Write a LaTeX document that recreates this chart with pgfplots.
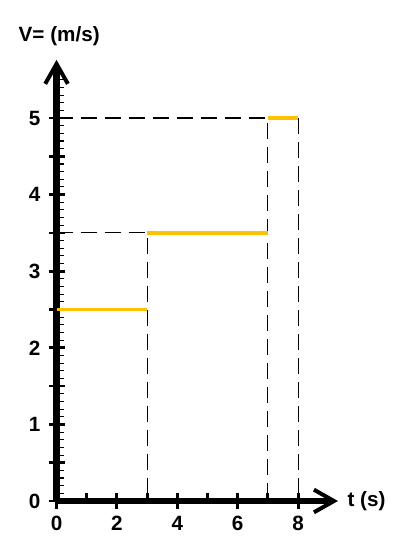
\documentclass[border=0pt]{standalone}
\usepackage{fontspec}
\setmainfont{Liberation Sans}
\usepackage{pgfplots}
\pgfplotsset{compat=1.18}
\usetikzlibrary{arrows.meta}
\definecolor{gold}{HTML}{FFC000}

\begin{document}
\begin{tikzpicture}
    \useasboundingbox (-42.4pt,-42.75pt) rectangle (259.1pt,375.75pt);
    \begin{axis}[
        scale only axis,
        width=211.1pt, height=330.9pt,
        xmin=0, xmax=9.32,
        ymin=0, ymax=5.76,
        axis lines=left,
        axis line style={line width=4.8pt, -{Straight Barb[length=15pt, width=17pt, line width=3pt]}},
        every outer x axis line/.append style={-{Straight Barb[length=15pt, width=17pt, line width=3pt]}},
        every outer y axis line/.append style={-{Straight Barb[length=15pt, width=17pt, line width=3pt]}},
        xtick={0,2,4,6,8},
        minor xtick={1,3,5,7},
        ytick={0,0.5,...,5},
        yticklabels={0,,1,,2,,3,,4,,5},
        minor ytick={0,0.1,...,5.45},
        tick align=center,
        major tick length=12pt,
        minor tick length=5.8pt,
        major x tick style={line width=2.2pt, black},
        minor x tick style={line width=2.2pt, black, yshift=2.9pt},
        major y tick style={line width=2pt, black},
        minor y tick style={line width=0.8pt, black, xshift=2.9pt},
        /pgf/number format/assume math mode=true,
        ticklabel style={font=\fontsize{15.5}{18}\selectfont\bfseries},
        xticklabel style={yshift=-2pt},
        yticklabel style={xshift=-2.5pt},
        xlabel={t (s)},
        ylabel={V= (m/s)},
        every axis x label/.style={at={(rel axis cs:1,0)}, anchor=west, xshift=7pt, inner sep=0pt,
            font=\fontsize{15.5}{18}\selectfont\bfseries},
        every axis y label/.style={at={(rel axis cs:0,1)}, anchor=south, yshift=10pt, xshift=2pt, inner sep=0pt,
            font=\fontsize{15.5}{18}\selectfont\bfseries},
        clip=false,
        ]
        % guide lines
        \addplot[black, line width=0.8pt, dash pattern=on 12pt off 6pt] coordinates {(0,3.5) (3,3.5) (3,0)};
        \addplot[black, line width=0.8pt, dash pattern=on 12pt off 6pt] coordinates {(0,5) (7,5) (7,0)};
        \addplot[black, line width=0.8pt, dash pattern=on 12pt off 6pt] coordinates {(8,5) (8,0)};
        % velocity steps
        \addplot[gold, line width=2.4pt] coordinates {(0,2.5) (3,2.5)};
        \addplot[gold, line width=2.4pt] coordinates {(3,3.5) (7,3.5)};
        \addplot[gold, line width=2.4pt] coordinates {(7,5) (8,5)};
    \end{axis}
\end{tikzpicture}
\end{document}
